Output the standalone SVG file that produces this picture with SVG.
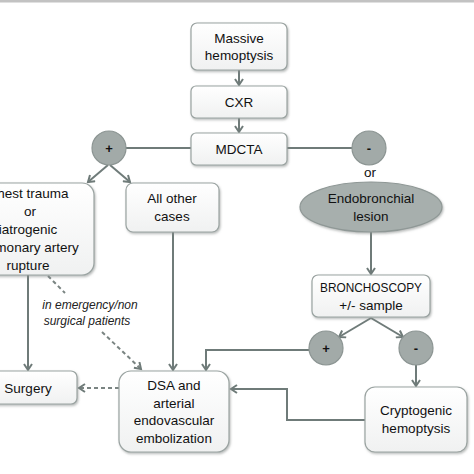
<svg xmlns="http://www.w3.org/2000/svg" width="474" height="474" viewBox="0 0 474 474">
<style>
.box{fill:url(#bg);stroke:#9aa3a1;stroke-width:1.2;filter:url(#sh)}
.t{font-family:"Liberation Sans",Arial,sans-serif;font-size:13.5px;fill:#111;text-anchor:middle}
.it{font-family:"Liberation Sans",Arial,sans-serif;font-size:12px;font-style:italic;fill:#222;text-anchor:middle}
.c{fill:#a2aaa8;stroke:#8c9593;stroke-width:1.2}
.s{font-family:"Liberation Sans",Arial,sans-serif;font-size:13px;font-weight:bold;fill:#111;text-anchor:middle}
.ln{fill:none;stroke:#6f7b79;stroke-width:2}
.ar{marker-end:url(#ah)}
.da{fill:none;stroke:#7a8482;stroke-width:2;stroke-dasharray:4 3}
</style>
<defs>
<linearGradient id="bg" x1="0" y1="0" x2="0" y2="1"><stop offset="0" stop-color="#ffffff"/><stop offset="1" stop-color="#f0f1f1"/></linearGradient>
<filter id="sh" x="-20%" y="-20%" width="140%" height="150%"><feDropShadow dx="1" dy="1.5" stdDeviation="1.2" flood-color="#8a8f8e" flood-opacity="0.6"/></filter>
<marker id="ah" markerWidth="10" markerHeight="10" refX="7" refY="5" orient="auto" markerUnits="userSpaceOnUse"><path d="M1,1 L7,5 L1,9" fill="none" stroke="#6f7b79" stroke-width="2"/></marker>
</defs>
<rect x="0" y="0" width="474" height="2.5" fill="#c2c2c2"/>
<g id="connectors">
<line class="ln ar" x1="239" y1="70" x2="239" y2="85"/>
<line class="ln ar" x1="239" y1="118" x2="239" y2="132"/>
<line class="ln" x1="126" y1="148" x2="191" y2="148"/>
<line class="ln" x1="287" y1="148" x2="352" y2="148"/>
<line class="ln ar" x1="108" y1="165" x2="88" y2="182"/>
<line class="ln ar" x1="110" y1="165" x2="130" y2="182"/>
<line class="ln ar" x1="371" y1="232" x2="371" y2="274"/>
<line class="ln ar" x1="371" y1="318" x2="339" y2="337"/>
<line class="ln ar" x1="371" y1="318" x2="403" y2="337"/>
<polyline class="ln ar" points="309,350 206,350 206,370"/>
<line class="ln ar" x1="416" y1="365" x2="416" y2="386"/>
<polyline class="ln ar" points="365,420 287,420 287,389 231,389"/>
<line class="ln ar" x1="173" y1="232" x2="173" y2="370"/>
<line class="ln ar" x1="28" y1="275" x2="28" y2="370"/>
<line class="da" x1="48" y1="276" x2="65" y2="293"/>
<line class="da ar" x1="102" y1="332" x2="141" y2="369"/>
<line class="da ar" x1="119" y1="388" x2="79" y2="388"/>
</g>
<g id="massive"><rect class="box" x="191" y="23" width="96" height="47" rx="6"/><text class="t" x="239" y="43">Massive</text><text class="t" x="239" y="60">hemoptysis</text></g>
<g id="cxr"><rect class="box" x="191" y="86" width="96" height="32" rx="5"/><text class="t" x="239" y="107">CXR</text></g>
<g id="mdcta"><rect class="box" x="191" y="133" width="96" height="32" rx="5"/><text class="t" x="239" y="154">MDCTA</text></g>
<g id="plus1"><circle class="c" cx="109" cy="148" r="17"/><text class="s" x="109" y="153">+</text></g>
<g id="minus1"><circle class="c" cx="369" cy="148" r="17"/><text class="s" x="369" y="153">-</text></g>
<g id="or"><text class="t" x="370" y="177">or</text></g>
<g id="endo"><ellipse cx="371" cy="207" rx="71" ry="25" fill="#a7afad" stroke="#8f9896" stroke-width="1.2" filter="url(#sh)"/><text class="t" x="371" y="203">Endobronchial</text><text class="t" x="371" y="221">lesion</text></g>
<g id="chest"><rect class="box" x="-40" y="183" width="134" height="92" rx="12"/><text class="t" x="28" y="198">Chest trauma</text><text class="t" x="30" y="216">or</text><text class="t" x="28" y="234">iatrogenic</text><text class="t" x="28" y="252">pulmonary artery</text><text class="t" x="28" y="270">rupture</text></g>
<g id="other"><rect class="box" x="126" y="183" width="93" height="49" rx="7"/><text class="t" x="172" y="203">All other</text><text class="t" x="172" y="221">cases</text></g>
<g id="bronch"><rect class="box" x="312" y="275" width="118" height="42" rx="6"/><text class="t" x="371" y="292" textLength="102" lengthAdjust="spacingAndGlyphs">BRONCHOSCOPY</text><text class="t" x="371" y="310" font-size="12.5">+/- sample</text></g>
<g id="plus2"><circle class="c" cx="326" cy="348" r="17"/><text class="s" x="326" y="353">+</text></g>
<g id="minus2"><circle class="c" cx="416" cy="348" r="17"/><text class="s" x="416" y="353">-</text></g>
<g id="note"><text class="it" x="90" y="309">in emergency/non</text><text class="it" x="87" y="325">surgical patients</text></g>
<g id="surgery"><rect class="box" x="-20" y="371" width="97" height="33" rx="6"/><text class="t" x="28" y="393">Surgery</text></g>
<g id="dsa"><rect class="box" x="119" y="371" width="110" height="81" rx="12"/><text class="t" x="174" y="390">DSA and</text><text class="t" x="174" y="408">arterial</text><text class="t" x="174" y="425">endovascular</text><text class="t" x="174" y="443">embolization</text></g>
<g id="crypto"><rect class="box" x="365" y="387" width="102" height="65" rx="10"/><text class="t" x="416" y="415">Cryptogenic</text><text class="t" x="416" y="433">hemoptysis</text></g>
</svg>
